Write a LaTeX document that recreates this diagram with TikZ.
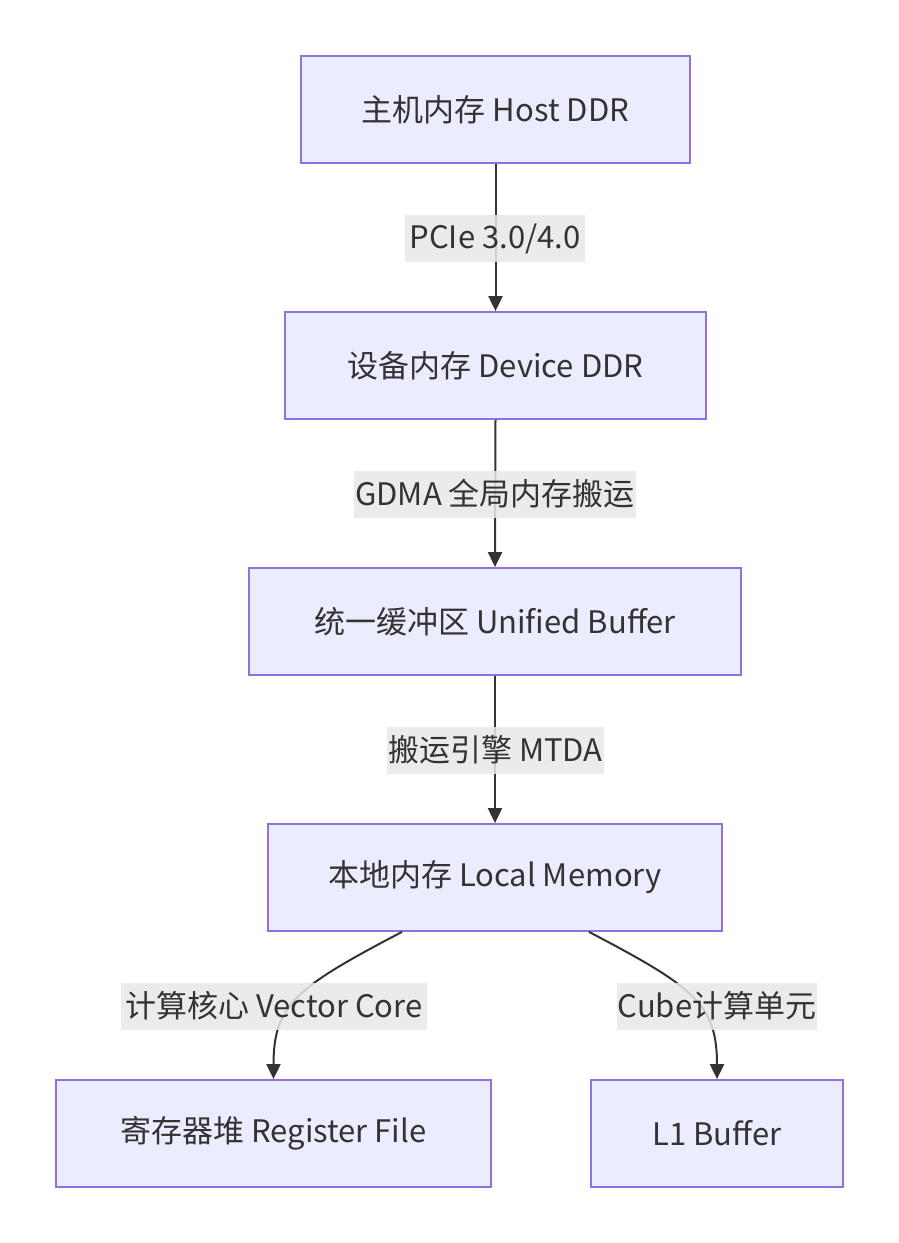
\documentclass[tikz,border=0pt]{standalone}
\usepackage{fontspec}
\setmainfont{Noto Sans CJK SC}
\usetikzlibrary{arrows.meta,calc}
\definecolor{nodefill}{HTML}{ECECFF}
\definecolor{nodeborder}{HTML}{9370DB}
\definecolor{linec}{HTML}{333333}
\definecolor{labelbg}{HTML}{E8E8E8}
\tikzset{
  box/.style={draw=nodeborder,fill=nodefill,line width=1.8pt,inner sep=0pt,text=linec,font=\fontsize{31}{36}\selectfont,minimum height=107pt},
  elabel/.style={fill=labelbg,fill opacity=0.85,text opacity=1,text=linec,inner sep=0pt,minimum height=47pt,font=\fontsize{31}{36}\selectfont},
  conn/.style={draw=linec,line width=2pt,-{Triangle[length=15pt,width=14pt]}},
}
\begin{document}
\begin{tikzpicture}[x=1pt,y=-1pt]
\useasboundingbox (0,0) rectangle (899,1243);
\node[box,minimum width=389pt] (n1) at (495.5,109.5) {主机内存 Host DDR};
\node[box,minimum width=421pt] (n2) at (495.5,365.5) {设备内存 Device DDR};
\node[box,minimum width=492pt] (n3) at (495,621.5) {统一缓冲区 Unified Buffer};
\node[box,minimum width=454pt] (n4) at (495,877.5) {本地内存 Local Memory};
\node[box,minimum width=435pt] (n5) at (273.5,1133.5) {寄存器堆 Register File};
\node[box,minimum width=252pt] (n6) at (717,1133.5) {L1 Buffer};
\draw[conn] (n1.south) -- (n2.north);
\draw[conn] (n2.south) -- (n3.north);
\draw[conn] (n3.south) -- (n4.north);
\coordinate (s5) at ($(n4.south)+(-93,0)$);
\coordinate (s6) at ($(n4.south)+(94,0)$);
\draw[conn] (s5) .. controls ($(s5)+(-105,55)$) and ($(n5.north)+(0,-75)$) .. (n5.north);
\draw[conn] (s6) .. controls ($(s6)+(105,55)$) and ($(n6.north)+(0,-75)$) .. (n6.north);
\node[elabel,minimum width=180pt] (l1) at (495,238.5) {PCIe 3.0/4.0};
\node[elabel,minimum width=282pt] (l2) at (495,494) {GDMA 全局内存搬运};
\node[elabel,minimum width=217pt] (l3) at (495.5,750) {搬运引擎 MTDA};
\node[elabel,minimum width=306pt] (l4) at (274,1006) {计算核心 Vector Core};
\node[elabel,minimum width=200pt] (l5) at (717,1006) {Cube计算单元};
\end{tikzpicture}
\end{document}
